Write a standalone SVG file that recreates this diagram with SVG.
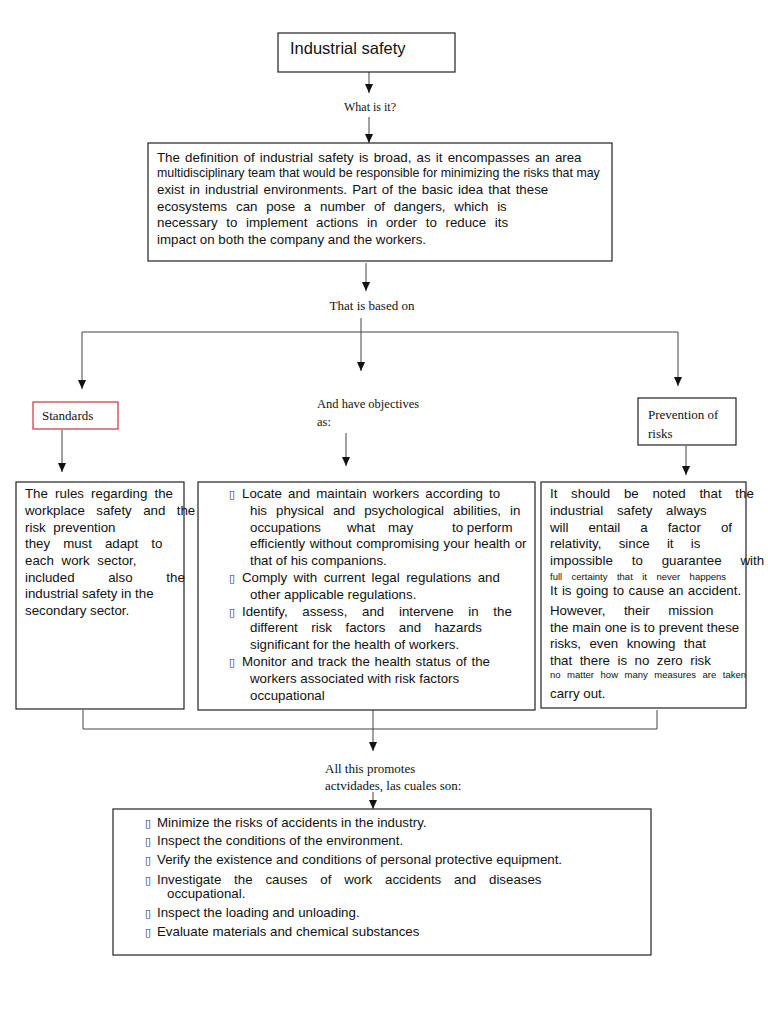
<svg xmlns="http://www.w3.org/2000/svg" width="768" height="1024" viewBox="0 0 768 1024">
<style>
.box{fill:#fff;stroke:#222;stroke-width:1.2}
.red{fill:#fff;stroke:#c8323a;stroke-width:1.2}
.s{font-family:"Liberation Sans",Arial,sans-serif;font-size:13.3px;fill:#111}
.b{font-family:"DejaVu Sans",sans-serif;font-size:11px;fill:#333}
.sm{font-family:"Liberation Sans",Arial,sans-serif;font-size:9.5px;fill:#111}
.t{font-family:"Liberation Serif","Times New Roman",serif;font-size:13px;fill:#111}
.c{fill:none;stroke:#444;stroke-width:1}
</style>
<defs>
<marker id="ah" markerWidth="9" markerHeight="8" refX="9" refY="4" orient="auto" markerUnits="userSpaceOnUse" viewBox="0 0 9 8">
<path d="M0,0 L9,4 L0,8 Z" fill="#111"/>
</marker>
</defs>
<rect width="768" height="1024" fill="#fff"/>

<g id="connectors">
<line class="c" x1="369" y1="72" x2="369" y2="93" marker-end="url(#ah)"/>
<line class="c" x1="369" y1="117" x2="369" y2="143" marker-end="url(#ah)"/>
<line class="c" x1="366" y1="263" x2="366" y2="291" marker-end="url(#ah)"/>
<line class="c" x1="361" y1="318" x2="361" y2="371" marker-end="url(#ah)"/>
<line class="c" x1="82" y1="332" x2="678" y2="332"/>
<line class="c" x1="82" y1="332" x2="82" y2="389" marker-end="url(#ah)"/>
<line class="c" x1="678" y1="332" x2="678" y2="386" marker-end="url(#ah)"/>
<line class="c" x1="62" y1="430" x2="62" y2="472" marker-end="url(#ah)"/>
<line class="c" x1="346" y1="433" x2="346" y2="466" marker-end="url(#ah)"/>
<line class="c" x1="686" y1="446" x2="686" y2="475" marker-end="url(#ah)"/>
<path class="c" d="M83,710 V729 H657 V710"/>
<line class="c" x1="373" y1="710" x2="373" y2="751" marker-end="url(#ah)"/>
<line class="c" x1="373" y1="792" x2="373" y2="809" marker-end="url(#ah)"/>
</g>

<g id="title">
<rect class="box" x="278" y="33" width="177" height="39"/>
<text x="290" y="54" font-family="Liberation Sans,Arial,sans-serif" font-size="16.5" fill="#111">Industrial safety</text>
</g>

<g id="label-what">
<text class="t" x="370" y="111" text-anchor="middle" style="font-size:12px">What is it?</text>
</g>

<g id="definition">
<rect class="box" x="148" y="143" width="464" height="118"/>
<text class="s" x="157" y="162" word-spacing="1.5">The definition of industrial safety is broad, as it encompasses an area</text>
<text class="s" x="157" y="177" style="font-size:12.4px">multidisciplinary team that would be responsible for minimizing the risks that may</text>
<text class="s" x="157" y="194" word-spacing="1.5">exist in industrial environments. Part of the basic idea that these</text>
<text class="s" x="157" y="211" word-spacing="5.1">ecosystems can pose a number of dangers, which is</text>
<text class="s" x="157" y="227" word-spacing="5">necessary to implement actions in order to reduce its</text>
<text class="s" x="157" y="244">impact on both the company and the workers.</text>
</g>

<g id="label-based">
<text class="t" x="372" y="310" text-anchor="middle">That is based on</text>
</g>

<g id="standards">
<rect class="red" x="33" y="402" width="85" height="27"/>
<text class="t" x="42" y="420">Standards</text>
</g>

<g id="label-objectives">
<text class="t" x="317" y="408" style="font-size:12.5px">And have objectives</text>
<text class="t" x="317" y="426" style="font-size:12.5px">as:</text>
</g>

<g id="prevention">
<rect class="box" x="638" y="398" width="98" height="47"/>
<text class="t" x="648" y="419">Prevention of</text>
<text class="t" x="648" y="438">risks</text>
</g>

<g id="rules">
<rect class="box" x="16" y="482" width="168" height="227"/>
<text class="s" x="25" y="498" word-spacing="3.5">The rules regarding the</text>
<text class="s" x="25" y="515" word-spacing="7.7">workplace safety and the</text>
<text class="s" x="25" y="532" word-spacing="4">risk prevention</text>
<text class="s" x="25" y="548" word-spacing="9.3">they must adapt to</text>
<text class="s" x="25" y="565" word-spacing="4">each work sector,</text>
<text class="s" x="25" y="582" word-spacing="30">included also the</text>
<text class="s" x="25" y="598">industrial safety in the</text>
<text class="s" x="25" y="615">secondary sector.</text>
</g>

<g id="objectives">
<rect class="box" x="198" y="482" width="337" height="228"/>
<text class="b" x="229" y="498">▯</text>
<text class="s" x="242" y="498" word-spacing="2.4">Locate and maintain workers according to</text>
<text class="s" x="250" y="515" word-spacing="5.3">his physical and psychological abilities, in</text>
<text class="s" x="250" y="532">occupations</text>
<text class="s" x="347" y="532">what</text>
<text class="s" x="388" y="532">may</text>
<text class="s" x="452" y="532">to perform</text>
<text class="s" x="250" y="548" word-spacing="0.8">efficiently without compromising your health or</text>
<text class="s" x="250" y="565">that of his companions.</text>
<text class="b" x="229" y="582">▯</text>
<text class="s" x="242" y="582" word-spacing="2.8">Comply with current legal regulations and</text>
<text class="s" x="250" y="599">other applicable regulations.</text>
<text class="b" x="229" y="616">▯</text>
<text class="s" x="242" y="616" word-spacing="11">Identify, assess, and intervene in the</text>
<text class="s" x="250" y="632" word-spacing="9.8">different risk factors and hazards</text>
<text class="s" x="250" y="649">significant for the health of workers.</text>
<text class="b" x="229" y="666">▯</text>
<text class="s" x="242" y="666" word-spacing="1">Monitor and track the health status of the</text>
<text class="s" x="250" y="683">workers associated with risk factors</text>
<text class="s" x="250" y="700">occupational</text>
</g>

<g id="risks-text">
<rect class="box" x="541" y="482" width="205" height="226"/>
<text class="s" x="550" y="498" word-spacing="10">It should be noted that the</text>
<text class="s" x="550" y="515" word-spacing="10">industrial safety always</text>
<text class="s" x="550" y="532" word-spacing="16.3">will entail a factor of</text>
<text class="s" x="550" y="548" word-spacing="13.5">relativity, since it is</text>
<text class="s" x="550" y="565" word-spacing="15.2">impossible to guarantee with</text>
<text class="sm" x="550" y="580" word-spacing="6.8">full certainty that it never happens</text>
<text class="s" x="550" y="595" word-spacing="0.8">It is going to cause an accident.</text>
<text class="s" x="550" y="615" word-spacing="14.8">However, their mission</text>
<text class="s" x="550" y="632">the main one is to prevent these</text>
<text class="s" x="550" y="648" word-spacing="4.7">risks, even knowing that</text>
<text class="s" x="550" y="665" word-spacing="3.8">that there is no zero risk</text>
<text class="sm" x="550" y="678" word-spacing="3.9">no matter how many measures are taken</text>
<text class="s" x="550" y="698">carry out.</text>
</g>

<g id="label-promotes">
<text class="t" x="325" y="773">All this promotes</text>
<text class="t" x="325" y="790">actvidades, las cuales son:</text>
</g>

<g id="activities">
<rect class="box" x="113" y="809" width="538" height="146"/>
<text class="b" x="145" y="827">▯</text>
<text class="s" x="157" y="827">Minimize the risks of accidents in the industry.</text>
<text class="b" x="145" y="845">▯</text>
<text class="s" x="157" y="845">Inspect the conditions of the environment.</text>
<text class="b" x="145" y="864">▯</text>
<text class="s" x="157" y="864">Verify the existence and conditions of personal protective equipment.</text>
<text class="b" x="145" y="884">▯</text>
<text class="s" x="157" y="884" word-spacing="9.1">Investigate the causes of work accidents and diseases</text>
<text class="s" x="167" y="898">occupational.</text>
<text class="b" x="145" y="917">▯</text>
<text class="s" x="157" y="917">Inspect the loading and unloading.</text>
<text class="b" x="145" y="936">▯</text>
<text class="s" x="157" y="936">Evaluate materials and chemical substances</text>
</g>
</svg>
